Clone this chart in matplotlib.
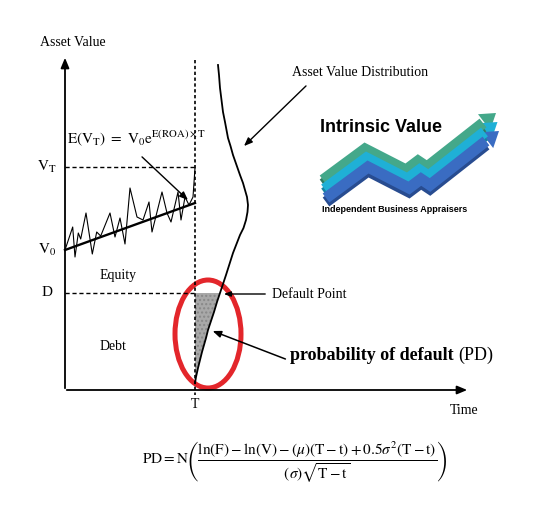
import numpy as np
import matplotlib
matplotlib.use("Agg")
import matplotlib.pyplot as plt
from matplotlib.patches import Ellipse, Polygon

plt.rcParams['font.family'] = ['Liberation Serif', 'DejaVu Serif']
plt.rcParams['mathtext.fontset'] = 'stix'

# diagram units = pixels of the 533x518 canvas (y grows downward)
T_x = 195
V0_y, VT_y, D_y = 250, 167, 293
axis_x0, axis_y0 = 65, 390

# simulated asset value path (zigzag)
zig_x = [65, 72.7, 75, 78.3, 80.7, 86, 92.3, 96.7, 100.7, 110, 115, 120, 125, 130,
         137, 143, 149, 152, 162, 167, 171, 178, 181, 185, 189, 193, 195]
zig_y = [250, 227, 257, 233, 239, 213, 254, 232, 236, 213, 237, 218, 244, 188,
         217, 220, 202, 232, 192, 213, 222, 192, 220, 197, 205, 197, 168]
trend_x = [65, 195]
trend_y = [250, 203]

# asset value distribution at T (sideways density)
dist_y = [65, 75, 88, 100, 112, 122, 130, 138, 146, 155, 165, 175, 183, 190, 197, 205,
          212, 220, 228, 235, 244, 253, 264, 275, 284, 293, 302, 312, 321, 330, 338,
          345, 352, 360, 368, 377, 383]
dist_x = [218, 219, 220, 221.5, 223, 225, 226.5, 228, 230.5, 233, 236.5, 240, 243, 245,
          247, 248, 247.5, 246, 243.5, 240, 236.5, 233, 229.5, 226, 223, 220, 217, 214,
          211, 208, 206, 204, 202, 200, 198, 196, 195]

# logo ribbon centre line
ribbon_x = [323, 365, 406, 418, 427, 483]
ribbon_y = [180, 149, 170, 161, 167, 123]
ribbon_tip = (496, 113)
ribbon_colors = ['#44a88a', '#1fb0d6', '#3a6cc2']
ribbon_dark = ['#2e7a62', '#1683a0', '#284c90']
ribbon_offsets = [0, 9, 18]

fig = plt.figure(figsize=(5.33, 5.18), dpi=100)
ax = fig.add_axes([0, 0, 1, 1])
ax.set_xlim(0, 533)
ax.set_ylim(518, 0)
ax.axis('off')

k = 'black'
# axes with arrows
ax.annotate('', xy=(axis_x0, 55), xytext=(axis_x0, axis_y0 + 1),
            arrowprops=dict(arrowstyle='-|>,head_width=0.25,head_length=0.6', color=k, lw=1.3))
ax.annotate('', xy=(470, axis_y0), xytext=(axis_x0 - 1, axis_y0),
            arrowprops=dict(arrowstyle='-|>,head_width=0.25,head_length=0.6', color=k, lw=1.3))
ax.text(40, 43, 'Asset Value', fontsize=10, va='center', ha='left')
ax.text(450, 410, 'Time', fontsize=10, va='center', ha='left')
ax.text(T_x, 405, 'T', fontsize=10, va='center', ha='center')

# reference lines
ax.plot([T_x, T_x], [60, 395], color=k, lw=1.2, ls=(0, (2, 1.5)))
ax.plot([axis_x0, T_x], [VT_y, VT_y], color=k, lw=1.0, ls=(0, (3, 2)))
ax.plot([axis_x0, T_x], [D_y, D_y], color=k, lw=1.0, ls=(0, (3, 2)))
ax.text(47, VT_y, r'$\mathrm{V_T}$', fontsize=11, ha='center', va='center')
ax.text(47, V0_y, r'$\mathrm{V_0}$', fontsize=11, ha='center', va='center')
ax.text(47, D_y, 'D', fontsize=11, ha='center', va='center')
ax.text(100, 275, 'Equity', fontsize=10, va='center', ha='left')
ax.text(100, 347, 'Debt', fontsize=10, va='center', ha='left')

# path and trend
ax.plot(zig_x, zig_y, color=k, lw=0.8)
ax.plot(trend_x, trend_y, color=k, lw=1.7)
ax.text(67, 138, r'$\mathrm{E(V_T)\ =\ V_0e^{E(ROA)\times T}}$', fontsize=11, ha='left', va='center')
ax.annotate('', xy=(190, 202), xytext=(140, 155),
            arrowprops=dict(arrowstyle='-|>,head_width=0.2,head_length=0.5', color=k, lw=1.0))

# distribution
ax.plot(dist_x, dist_y, color=k, lw=1.3)
dy = np.array(dist_y)
dx = np.array(dist_x)
m = dy >= D_y
ax.fill_betweenx(dy[m], T_x, dx[m], facecolor='#a8a8a8', edgecolor='#888888', hatch='....', lw=0)
ax.text(292, 72, 'Asset Value Distribution', fontsize=10, va='center', ha='left')
ax.annotate('', xy=(242, 148), xytext=(308, 84),
            arrowprops=dict(arrowstyle='-|>,head_width=0.2,head_length=0.5', color=k, lw=1.0))

ax.annotate('', xy=(221, 294), xytext=(268, 294),
            arrowprops=dict(arrowstyle='-|>,head_width=0.15,head_length=0.4', color=k, lw=1.0))
ax.text(272, 295, 'Default Point', fontsize=10, va='center', ha='left')

ax.add_patch(Ellipse((208, 334), 66, 108, facecolor='none', edgecolor='#e3262b', lw=3.6))

ax.annotate('', xy=(210, 330), xytext=(288, 360),
            arrowprops=dict(arrowstyle='-|>,head_width=0.2,head_length=0.5', color=k, lw=1.1))
t = ax.text(290, 355, 'probability of default ', fontsize=13, fontweight='bold', va='center', ha='left')
fig.canvas.draw()
bb = t.get_window_extent().transformed(ax.transData.inverted())
ax.text(bb.x1, 355, '(PD)', fontsize=13, va='center', ha='left')

# logo
for c, cd, off in zip(ribbon_colors, ribbon_dark, ribbon_offsets):
    xs = np.array(ribbon_x, float) + off / 6
    ys = np.array(ribbon_y, float) + off
    ax.plot(xs, ys + 4, color=cd, lw=8, solid_joinstyle='miter', solid_capstyle='butt')
    ax.plot(xs, ys, color=c, lw=8, solid_joinstyle='miter', solid_capstyle='butt')
    tip = np.array([ribbon_tip[0] + off / 6, ribbon_tip[1] + off])
    last = np.array([xs[-1], ys[-1]])
    d = (tip - last) / np.linalg.norm(tip - last)
    n = np.array([-d[1], d[0]])
    base = tip - d * 15
    ax.add_patch(Polygon([tip, base + n * 10, base - n * 10], closed=True, facecolor=c, edgecolor='none'))
ax.text(320, 127, 'Intrinsic Value', family='Liberation Sans', fontweight='bold', fontsize=13,
        va='center', ha='left')
ax.text(322, 209, 'Independent Business Appraisers', family='Liberation Sans', fontweight='bold',
        fontsize=6.5, va='center', ha='left')

# PD formula
ax.text(295, 462,
        r'$\mathrm{PD}=\mathrm{N}\left(\dfrac{\ln(\mathrm{F})-\ln(\mathrm{V})-(\mu)(\mathrm{T}-\mathrm{t})+0.5\sigma^2(\mathrm{T}-\mathrm{t})}'
        r'{(\sigma)\sqrt{\mathrm{T}-\mathrm{t}}}\right)$',
        fontsize=11, ha='center', va='center')

fig.savefig('out.png', dpi=100)
